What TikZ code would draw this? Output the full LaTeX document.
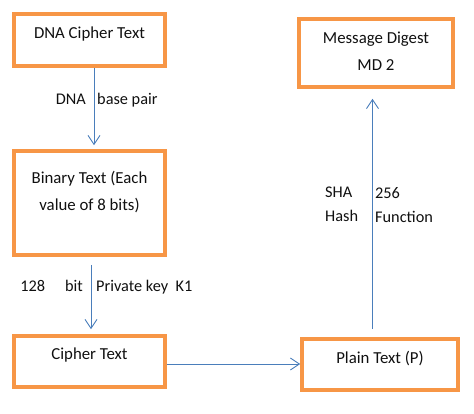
\documentclass[tikz,border=0pt]{standalone}
\usepackage{fontspec}
\setmainfont{Carlito}
\usetikzlibrary{arrows.meta, calc}
\definecolor{boxorange}{HTML}{F79646}
\definecolor{flowblue}{HTML}{4A7EBB}
\definecolor{inkgray}{HTML}{101010}

\begin{document}
\begin{tikzpicture}[
  x=1pt, y=-1pt,
  >={Straight Barb[length=9pt, width=12pt]},
  box/.style={draw=boxorange, line width=3.6pt, minimum width=151pt, inner sep=0pt},
  boxtext/.style={inkgray, font=\fontsize{16.8}{27}\selectfont, align=center, inner sep=0pt},
  flowlabel/.style={inkgray, font=\fontsize{16.3}{24}\selectfont, align=left, inner sep=0pt},
  flow/.style={->, flowblue, line width=0.9pt}
]

% Canvas
\useasboundingbox (0,0) rectangle (474,413);

% ── Boxes ──
\node[box, minimum height=52pt] (dna) at (89.5,40) {};
\node[box, minimum height=104pt] (bin) at (89.5,203) {};
\node[box, minimum height=51pt] (ciph) at (89.5,361.5) {};
\node[box, minimum width=156pt, minimum height=51pt] (plain) at (380,364.5) {};
\node[box, minimum width=154pt, minimum height=68pt] (md) at (376,53) {};

% ── Box texts ──
\node[boxtext, anchor=base] (dnatxt) at ($(dna.north)+(0,26)$) {DNA Cipher Text};
\node[boxtext] (bintxt) at ($(bin.north)+(0,42.5)$) {Binary Text (Each\\value of 8 bits)};
\node[boxtext, anchor=base] (ciphtxt) at ($(ciph.north)+(0,25)$) {Cipher Text};
\node[boxtext, anchor=base] (plaintxt) at ($(plain.north)+(0,26.5)$) {Plain Text (P)};
\node[boxtext] (mdtxt) at ($(md.north)+(0,34)$) {Message Digest\\MD 2};

% ── Connectors ──
\draw[flow, shorten >=4pt] ([xshift=4.5pt]dna.south) -- ([xshift=4.5pt]bin.north);
\draw[flow, shorten <=8pt, shorten >=5pt] ([xshift=1.5pt]bin.south) -- ([xshift=1.5pt]ciph.north);
\draw[flow] ([yshift=-2.5pt]ciph.east) coordinate (h0) -- (h0 -| plain.west);
\draw[flow, shorten <=8pt, shorten >=10pt] ([xshift=-7.5pt]plain.north) coordinate (v0) -- (v0 |- md.south);

% ── Connector labels ──
\node[flowlabel, anchor=base east] (dnalbl) at (86,104) {DNA};
\node[flowlabel, anchor=base west] (pairlbl) at (97,104) {base pair};
\node[flowlabel, anchor=base east] (bitlbl) at (83,291.7) {128\quad\ bit};
\node[flowlabel, anchor=base west] (keylbl) at (96,291.7) {Private key\ \ K1};
\node[flowlabel, anchor=north west] (shalbl) at (325,187) {SHA\\Hash};
\node[flowlabel, anchor=north west] (fnlbl) at (375,187) {256\\Function};

\end{tikzpicture}
\end{document}
